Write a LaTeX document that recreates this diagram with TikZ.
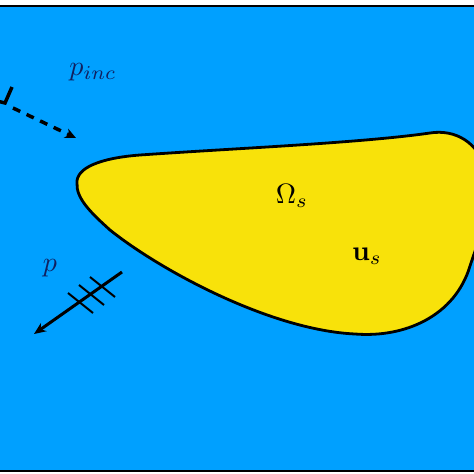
\documentclass[tikz,border=0pt]{standalone}
\usetikzlibrary{arrows.meta,calc}
\definecolor{fluid}{RGB}{0,160,255}
\definecolor{solid}{RGB}{248,226,10}
\definecolor{labelc}{RGB}{16,32,96}
\begin{document}
\begin{tikzpicture}[x=1pt,y=-1pt,
  lbl/.style={scale=2.8,inner sep=0pt},
  boundary/.style={draw=black,line width=2.8pt,fill=solid},
  thickarrow/.style={line width=3pt,-{Stealth[length=12pt,width=10pt]}},
  dasharrow/.style={line width=3.5pt,dash pattern=on 8pt off 7pt,-{Stealth[length=11pt,width=10pt]}},
  tick/.style={line width=2pt}]
\useasboundingbox (0,0) rectangle (474,474);
\fill[white] (0,0) rectangle (474,474);
% fluid domain
\fill[fluid] (-5,5.5) rectangle (480,470.5);
\draw[line width=2pt] (-5,5.5) -- (480,5.5);
\draw[line width=2pt] (-5,470.5) -- (480,470.5);
% solid body
\begin{scope}
\clip (0,6.5) rectangle (474,469.5);
\draw[boundary] (77,183)
  .. controls (76,168) and (100,158) .. (140,155)
  .. controls (240,148) and (360,143) .. (430,133)
  .. controls (455,129) and (478,142) .. (486,170)
  .. controls (494,200) and (480,236) .. (470,266)
  .. controls (455,316) and (405,338) .. (355,334)
  .. controls (270,330) and (160,270) .. (110,230)
  .. controls (90,212) and (76,198) .. cycle;
\end{scope}
% labels
\node[lbl,text=labelc] (pinc) at (93,72) {$p_{inc}$};
\node[lbl,text=labelc] (p) at (50,268) {$p$};
\node[lbl] (omega) at (292,196) {$\Omega_s$};
\node[lbl] (us) at (367,256) {$\mathbf{u}_s$};
% incident wave
\coordinate (i1) at (13,108);
\coordinate (i2) at (76,138);
\draw[dasharrow] (i1) -- (i2);
\coordinate (l1) at (12,87);
\coordinate (l2) at (5,103);
\coordinate (l3) at (-3,101);
\draw[line width=3.5pt] (l1) -- (l2) -- (l3);
% scattered wave
\coordinate (s1) at (122,272);
\coordinate (s2) at (34,334);
\draw[thickarrow] (s1) -- (s2);
\coordinate (t1a) at (68,293); \coordinate (t1b) at (93,313);
\coordinate (t2a) at (79,285); \coordinate (t2b) at (104,305);
\coordinate (t3a) at (90,277); \coordinate (t3b) at (115,297);
\draw[tick] (t1a) -- (t1b);
\draw[tick] (t2a) -- (t2b);
\draw[tick] (t3a) -- (t3b);
\end{tikzpicture}
\end{document}
